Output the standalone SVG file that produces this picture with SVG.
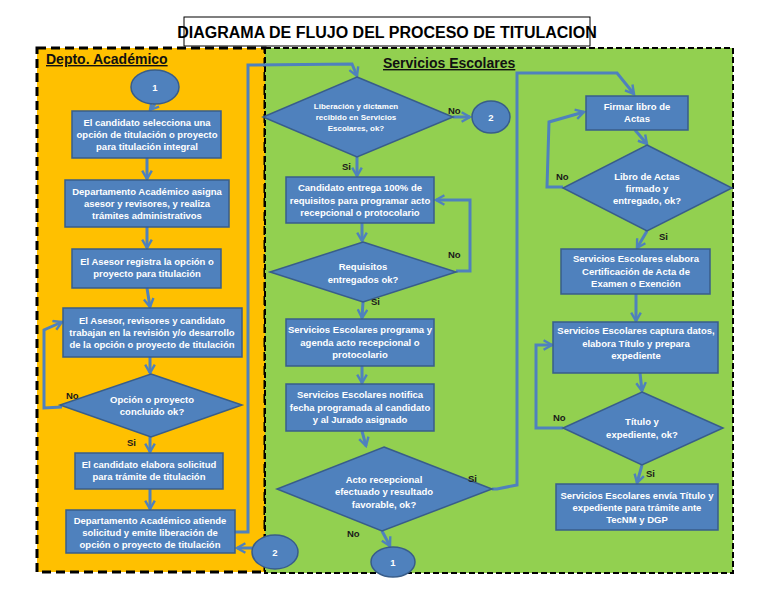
<svg xmlns="http://www.w3.org/2000/svg" width="768" height="594" viewBox="0 0 768 594">
<style>
.n{fill:#4F81BD;stroke:#385D8A;stroke-width:1.5}
.t{font-family:"Liberation Sans",Arial,sans-serif;font-weight:bold;font-size:9.5px;fill:#fff;text-anchor:middle}
.s{font-size:8px}
.l{font-family:"Liberation Sans",Arial,sans-serif;font-weight:bold;font-size:9.5px;fill:#1a1a1a}
.c{fill:none;stroke:#4F81BD;stroke-width:3;marker-end:url(#a)}
.h{font-family:"Liberation Sans",Arial,sans-serif;font-weight:bold;font-size:14px;fill:#111;text-decoration:underline}
</style>
<defs>
<marker id="a" viewBox="0 0 10 10" refX="8" refY="5" markerWidth="4" markerHeight="4" orient="auto" markerUnits="strokeWidth">
<polyline points="1,1 8,5 1,9" fill="none" stroke="#4F81BD" stroke-width="2"/>
</marker>
</defs>
<rect width="768" height="594" fill="#fff"/>
<g id="lanes">
<rect x="37" y="48" width="228" height="524" fill="#FFC000" stroke="#000" stroke-width="3" stroke-dasharray="9,5"/>
<rect x="265" y="48" width="468" height="525" fill="#92D050" stroke="#000" stroke-width="2" stroke-dasharray="6,3"/>
<text class="h" x="46" y="64">Depto. Académico</text>
<text class="h" x="383" y="68">Servicios Escolares</text>
</g>
<g id="title">
<rect x="184" y="17" width="406" height="29" fill="#fff" stroke="#000" stroke-width="1"/>
<text x="387" y="38" font-family="Liberation Sans,Arial,sans-serif" font-weight="bold" font-size="16" text-anchor="middle" fill="#000">DIAGRAMA DE FLUJO DEL PROCESO DE TITULACION</text>
</g>
<g id="connectors">
<path class="c" d="M155,104 L150,110"/>
<path class="c" d="M147,158 L147,179"/>
<path class="c" d="M147,227 L147,248"/>
<path class="c" d="M147,288 L150,307"/>
<path class="c" d="M150,357 L150,373"/>
<path class="c" d="M62,407 L44,408 L44,330 L62,322"/>
<path class="c" d="M150,437 L150,452"/>
<path class="c" d="M150,489 L150,509"/>
<path class="c" d="M252,548 L237,548"/>
<path class="c" d="M235,532 L248,532 L248,65 L352,64 L357,76"/>
<path class="c" d="M453,117 L470,117"/>
<path class="c" d="M357,157 L357,176"/>
<path class="c" d="M362,223 L362,241"/>
<path class="c" d="M456,271 L470,271 L470,200 L436,200"/>
<path class="c" d="M363,302 L362,318"/>
<path class="c" d="M362,366 L362,383"/>
<path class="c" d="M362,431 L366,446"/>
<path class="c" d="M492,489 L497,489 L517,485 L517,73 L617,73 L634,94"/>
<path class="c" d="M382,531 L390,546"/>
<path class="c" d="M635,130 L647,144"/>
<path class="c" d="M563,187 L547,187 L549,122 L584,112"/>
<path class="c" d="M647,231 L637,248"/>
<path class="c" d="M636,294 L636,321"/>
<path class="c" d="M640,373 L642,391"/>
<path class="c" d="M563,428 L536,428 L536,345 L552,345"/>
<path class="c" d="M642,465 L637,483"/>
</g>
<g id="c1"><ellipse class="n" cx="155" cy="87" rx="24" ry="17"/><text class="t" x="155" y="91">1</text></g>
<g id="b1"><rect class="n" x="72" y="111" width="149" height="47"/><text class="t" x="147" y="126">El candidato selecciona una</text><text class="t" x="147" y="138">opción de titulación o proyecto</text><text class="t" x="147" y="150">para titulación integral</text></g>
<g id="b2"><rect class="n" x="65" y="180" width="164" height="47"/><text class="t" x="147" y="195">Departamento Académico asigna</text><text class="t" x="147" y="207">asesor y revisores, y realiza</text><text class="t" x="147" y="219">trámites administrativos</text></g>
<g id="b3"><rect class="n" x="72" y="249" width="149" height="39"/><text class="t" x="147" y="265">El Asesor registra la opción o</text><text class="t" x="147" y="277">proyecto para titulación</text></g>
<g id="b4"><rect class="n" x="63" y="308" width="179" height="49"/><text class="t" x="152" y="324">El Asesor, revisores  y  candidato</text><text class="t" x="152" y="336">trabajan en la revisión y/o desarrollo</text><text class="t" x="152" y="348">de la opción o proyecto de titulación</text></g>
<g id="d1"><polygon class="n" points="151,374 242,405 151,437 60,405"/><text class="t" x="152" y="403">Opción o proyecto</text><text class="t" x="152" y="415">concluido ok?</text><text class="l" x="66" y="399">No</text><text class="l" x="127" y="446">Si</text></g>
<g id="b5"><rect class="n" x="75" y="453" width="148" height="36"/><text class="t" x="149" y="468">El  candidato elabora solicitud</text><text class="t" x="149" y="480">para trámite de titulación</text></g>
<g id="b6"><rect class="n" x="66" y="510" width="169" height="43"/><text class="t" x="150" y="524">Departamento Académico atiende</text><text class="t" x="150" y="536">solicitud y emite liberación de</text><text class="t" x="150" y="548">opción o proyecto de titulación</text></g>
<g id="c2b"><ellipse class="n" cx="275" cy="552" rx="23" ry="17"/><text class="t" x="275" y="556">2</text></g>
<g id="dA"><polygon class="n" points="357,77 453,117 357,157 263,117"/><text class="t s" x="356" y="109">Liberación y dictamen</text><text class="t s" x="356" y="120">recibido en Servicios</text><text class="t s" x="356" y="131">Escolares, ok?</text><text class="l" x="448" y="114">No</text><text class="l" x="342" y="170">Si</text></g>
<g id="c2a"><ellipse class="n" cx="491" cy="117" rx="19" ry="16"/><text class="t" x="491" y="121">2</text></g>
<g id="bB"><rect class="n" x="286" y="177" width="148" height="46"/><text class="t" x="360" y="191">Candidato entrega 100% de</text><text class="t" x="360" y="204">requisitos para programar acto</text><text class="t" x="360" y="216">recepcional o protocolario</text></g>
<g id="dB"><polygon class="n" points="363,242 456,272 363,302 270,272"/><text class="t" x="363" y="270">Requisitos</text><text class="t" x="363" y="283">entregados ok?</text><text class="l" x="448" y="258">No</text><text class="l" x="371" y="305">Si</text></g>
<g id="bC"><rect class="n" x="286" y="319" width="148" height="47"/><text class="t" x="360" y="333">Servicios Escolares programa y</text><text class="t" x="360" y="346">agenda acto recepcional o</text><text class="t" x="360" y="358">protocolario</text></g>
<g id="bD"><rect class="n" x="286" y="384" width="148" height="47"/><text class="t" x="360" y="398">Servicios Escolares  notifica</text><text class="t" x="360" y="411">fecha programada al candidato</text><text class="t" x="360" y="423">y al Jurado asignado</text></g>
<g id="dC"><polygon class="n" points="384,447 492,489 382,531 277,489"/><text class="t" x="384" y="483">Acto recepcional</text><text class="t" x="384" y="495">efectuado y resultado</text><text class="t" x="384" y="508">favorable, ok?</text><text class="l" x="468" y="482">Si</text><text class="l" x="347" y="537">No</text></g>
<g id="c1b"><ellipse class="n" cx="393" cy="562" rx="22" ry="15"/><text class="t" x="393" y="566">1</text></g>
<g id="bE1"><rect class="n" x="586" y="96" width="102" height="34"/><text class="t" x="637" y="110">Firmar libro de</text><text class="t" x="637" y="122">Actas</text></g>
<g id="dD"><polygon class="n" points="647,145 732,188 647,231 563,188"/><text class="t" x="647" y="180">Libro de Actas</text><text class="t" x="647" y="192">firmado y</text><text class="t" x="647" y="204">entregado, ok?</text><text class="l" x="556" y="180">No</text><text class="l" x="659" y="240">Si</text></g>
<g id="bE"><rect class="n" x="561" y="249" width="149" height="45"/><text class="t" x="636" y="262">Servicios Escolares elabora</text><text class="t" x="636" y="275">Certificación de Acta de</text><text class="t" x="636" y="287">Examen o Exención</text></g>
<g id="bF"><rect class="n" x="553" y="322" width="165" height="51"/><text class="t" x="636" y="334">Servicios Escolares captura datos,</text><text class="t" x="636" y="347">elabora Título y prepara</text><text class="t" x="636" y="359">expediente</text></g>
<g id="dE"><polygon class="n" points="642,392 723,428 642,465 563,428"/><text class="t" x="642" y="425">Título y</text><text class="t" x="642" y="438">expediente, ok?</text><text class="l" x="553" y="421">No</text><text class="l" x="646" y="477">Si</text></g>
<g id="bG"><rect class="n" x="556" y="484" width="162" height="46"/><text class="t" x="637" y="499">Servicios Escolares envía Título y</text><text class="t" x="637" y="511">expediente para trámite ante</text><text class="t" x="637" y="523">TecNM y DGP</text></g>
</svg>
